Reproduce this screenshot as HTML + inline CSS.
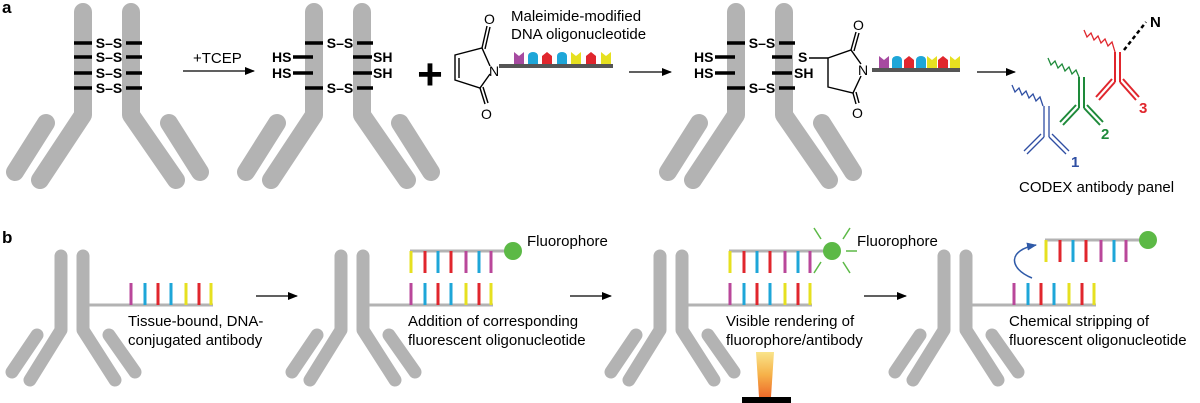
<!DOCTYPE html>
<html><head><meta charset="utf-8"><style>
html,body{margin:0;padding:0;background:#fff;}
svg{display:block;}
text{font-family:"Liberation Sans",sans-serif;}
</style></head><body>
<svg width="1200" height="403" viewBox="0 0 1200 403" xmlns="http://www.w3.org/2000/svg">
<defs>
<marker id="ah" markerWidth="10" markerHeight="8" refX="9" refY="4" orient="auto" markerUnits="userSpaceOnUse"><path d="M0,0 L10,4 L0,8 z" fill="#000"/></marker>
<marker id="bh" markerWidth="10" markerHeight="8" refX="9" refY="4" orient="auto" markerUnits="userSpaceOnUse"><path d="M0,0 L10,4 L0,8 z" fill="#2f5aa8"/></marker>
<linearGradient id="lamp" x1="0" y1="0" x2="0" y2="1"><stop offset="0" stop-color="#f9e48a"/><stop offset="0.5" stop-color="#f6b24a"/><stop offset="1" stop-color="#ee6a2a"/></linearGradient>
<g id="abA" fill="none" stroke="#b3b3b3" stroke-width="18" stroke-linecap="round" stroke-linejoin="round">
<polyline points="83,12 83,115 40,180"/>
<polyline points="131,12 131,115 176,180"/>
<line x1="46" y1="123" x2="15" y2="172"/>
<line x1="169" y1="123" x2="200" y2="172"/>
</g>
<g id="abB" fill="none" stroke="#b3b3b3" stroke-width="13" stroke-linecap="round" stroke-linejoin="round">
<polyline points="61,256 61,330 30,380"/>
<polyline points="83,256 83,330 115,380"/>
<line x1="37" y1="335" x2="12" y2="372"/>
<line x1="109" y1="335" x2="135" y2="372"/>
</g>
<g id="lowerDNA" stroke-width="3">
<line x1="89" y1="305" x2="213" y2="305" stroke="#b3b3b3"/>
<line x1="131" y1="283" x2="131" y2="305" stroke="#b9479a"/>
<line x1="145" y1="283" x2="145" y2="305" stroke="#1ea6d8"/>
<line x1="158" y1="283" x2="158" y2="305" stroke="#e0262d"/>
<line x1="171" y1="283" x2="171" y2="305" stroke="#1ea6d8"/>
<line x1="186" y1="283" x2="186" y2="305" stroke="#e6e020"/>
<line x1="199" y1="283" x2="199" y2="305" stroke="#e0262d"/>
<line x1="211" y1="283" x2="211" y2="305" stroke="#e6e020"/>
</g>
<g id="upperDNA" stroke-width="3">
<line x1="130" y1="251" x2="230" y2="251" stroke="#b3b3b3"/>
<line x1="131" y1="251" x2="131" y2="273" stroke="#e6e020"/>
<line x1="145" y1="251" x2="145" y2="273" stroke="#e0262d"/>
<line x1="158" y1="251" x2="158" y2="273" stroke="#1ea6d8"/>
<line x1="171" y1="251" x2="171" y2="273" stroke="#e0262d"/>
<line x1="186" y1="251" x2="186" y2="273" stroke="#b9479a"/>
<line x1="199" y1="251" x2="199" y2="273" stroke="#1ea6d8"/>
<line x1="211" y1="251" x2="211" y2="273" stroke="#b9479a"/>
<circle cx="233" cy="251" r="9" fill="#5cb946" stroke="none"/>
</g>
<g id="notch"><path d="M-5,0 V-12 L0,-8 L5,-12 V0 z"/></g>
<g id="round"><path d="M-5,0 V-8 A5,4 0 0 1 5,-8 V0 z"/></g>
<g id="point"><path d="M-5,0 V-8 L0,-12 L5,-8 V0 z"/></g>
</defs>

<text x="2" y="13" font-size="17" font-weight="bold">a</text>
<text x="2" y="243" font-size="17" font-weight="bold">b</text>

<use href="#abA"/>
<g stroke="#000" stroke-width="3.5">
<line x1="74" y1="43" x2="92" y2="43"/><line x1="126" y1="43" x2="142" y2="43"/>
<line x1="74" y1="57" x2="92" y2="57"/><line x1="126" y1="57" x2="142" y2="57"/>
<line x1="74" y1="73" x2="92" y2="73"/><line x1="126" y1="73" x2="142" y2="73"/>
<line x1="74" y1="88" x2="92" y2="88"/><line x1="126" y1="88" x2="142" y2="88"/>
</g>
<g font-size="14" font-weight="bold" text-anchor="middle">
<text x="109" y="48">S–S</text><text x="109" y="62">S–S</text><text x="109" y="78">S–S</text><text x="109" y="93">S–S</text>
</g>
<text x="193" y="63" font-size="15">+TCEP</text>
<line x1="183" y1="71" x2="254" y2="71" stroke="#000" stroke-width="1.3" marker-end="url(#ah)"/>

<use href="#abA" x="231"/>
<g stroke="#000" stroke-width="3.5">
<line x1="305" y1="43" x2="323" y2="43"/><line x1="357" y1="43" x2="373" y2="43"/>
<line x1="293" y1="57" x2="313" y2="57"/><line x1="353" y1="57" x2="372" y2="57"/>
<line x1="293" y1="73" x2="313" y2="73"/><line x1="353" y1="73" x2="372" y2="73"/>
<line x1="305" y1="88" x2="323" y2="88"/><line x1="357" y1="88" x2="373" y2="88"/>
</g>
<g font-size="14" font-weight="bold">
<text x="340" y="48" text-anchor="middle">S–S</text><text x="340" y="93" text-anchor="middle">S–S</text>
<text x="272" y="62">HS</text><text x="272" y="78">HS</text>
<text x="373" y="62">SH</text><text x="373" y="78">SH</text>
</g>
<text x="430" y="89" font-size="44" font-weight="bold" text-anchor="middle">+</text>

<g fill="none" stroke="#000" stroke-width="1.4">
<polyline points="490,66 482,48 455,55 455,80 480,88 490,74"/>
<line x1="459" y1="58" x2="459" y2="78"/>
<line x1="482" y1="48" x2="487" y2="26"/><line x1="485" y1="49" x2="490" y2="27"/>
<line x1="480" y1="88" x2="485" y2="104"/><line x1="483" y1="87" x2="488" y2="103"/>
</g>
<g font-size="14"><text x="484" y="24">O</text><text x="481" y="119">O</text><text x="489" y="76">N</text></g>
<line x1="499" y1="66" x2="613" y2="66" stroke="#555" stroke-width="4"/>
<g transform="translate(0,64)">
<use href="#notch" x="519" fill="#a64aa0"/><use href="#round" x="533" fill="#1ea6d8"/><use href="#point" x="547" fill="#e0262d"/><use href="#round" x="562" fill="#1ea6d8"/><use href="#notch" x="576" fill="#e6e020"/><use href="#point" x="591" fill="#e0262d"/><use href="#notch" x="606" fill="#e6e020"/>
</g>
<text x="511" y="21" font-size="15">Maleimide-modified</text>
<text x="511" y="39" font-size="15">DNA oligonucleotide</text>
<line x1="629" y1="72" x2="671" y2="72" stroke="#000" stroke-width="1.3" marker-end="url(#ah)"/>

<use href="#abA" x="653"/>
<g stroke="#000" stroke-width="3.5">
<line x1="727" y1="43" x2="745" y2="43"/><line x1="779" y1="43" x2="795" y2="43"/>
<line x1="715" y1="57" x2="735" y2="57"/><line x1="772" y1="57" x2="792" y2="57"/>
<line x1="715" y1="73" x2="735" y2="73"/><line x1="772" y1="73" x2="792" y2="73"/>
<line x1="727" y1="88" x2="745" y2="88"/><line x1="779" y1="88" x2="795" y2="88"/>
</g>
<g font-size="14" font-weight="bold">
<text x="762" y="48" text-anchor="middle">S–S</text><text x="762" y="93" text-anchor="middle">S–S</text>
<text x="694" y="62">HS</text><text x="694" y="78">HS</text>
<text x="798" y="62">S</text><text x="794" y="78">SH</text>
</g>
<g fill="none" stroke="#000" stroke-width="1.4">
<line x1="809" y1="58" x2="828" y2="58"/>
<polyline points="828,58 851,50 861,64"/>
<polyline points="861,76 853,93 828,87 828,58"/>
<line x1="851" y1="50" x2="856" y2="32"/><line x1="854" y1="51" x2="859" y2="33"/>
<line x1="853" y1="93" x2="856" y2="104"/><line x1="856" y1="92" x2="859" y2="103"/>
</g>
<g font-size="14"><text x="853" y="30">O</text><text x="852" y="118">O</text><text x="858" y="75">N</text></g>
<line x1="872" y1="70" x2="960" y2="70" stroke="#555" stroke-width="4"/>
<g transform="translate(0,68)">
<use href="#notch" x="884" fill="#a64aa0"/><use href="#round" x="897" fill="#1ea6d8"/><use href="#point" x="909" fill="#e0262d"/><use href="#round" x="921" fill="#1ea6d8"/><use href="#notch" x="932" fill="#e6e020"/><use href="#point" x="943" fill="#e0262d"/><use href="#notch" x="955" fill="#e6e020"/>
</g>
<line x1="977" y1="72" x2="1015" y2="72" stroke="#000" stroke-width="1.3" marker-end="url(#ah)"/>

<g fill="none" stroke-width="1.3">
<g stroke="#2f4fa3">
<line x1="1044" y1="106" x2="1044" y2="137"/><line x1="1049" y1="106" x2="1049" y2="137"/>
<line x1="1044" y1="137" x2="1027" y2="154"/><line x1="1041" y1="134" x2="1024" y2="151"/>
<line x1="1049" y1="137" x2="1066" y2="154"/><line x1="1052" y1="134" x2="1069" y2="151"/>
<polyline points="1012,85 1015,92 1019,88 1022,95 1026,91 1029,98 1033,94 1036,101 1040,97 1043,106"/>
</g>
<g stroke="#1e8a3a" stroke-width="2">
<line x1="1079" y1="77" x2="1079" y2="108"/><line x1="1084" y1="77" x2="1084" y2="108"/>
<line x1="1079" y1="108" x2="1063" y2="125"/><line x1="1076" y1="105" x2="1060" y2="122"/>
<line x1="1084" y1="108" x2="1100" y2="125"/><line x1="1087" y1="105" x2="1103" y2="122"/>
</g>
<polyline stroke="#1e8a3a" points="1048,58 1051,65 1055,61 1058,68 1062,64 1065,71 1069,67 1072,74 1076,70 1079,77"/>
<g stroke="#e0262d" stroke-width="2">
<line x1="1115" y1="52" x2="1115" y2="82"/><line x1="1120" y1="52" x2="1120" y2="82"/>
<line x1="1115" y1="82" x2="1099" y2="100"/><line x1="1112" y1="79" x2="1096" y2="97"/>
<line x1="1120" y1="82" x2="1136" y2="100"/><line x1="1123" y1="79" x2="1139" y2="97"/>
</g>
<polyline stroke="#e0262d" points="1084,30 1087,37 1091,33 1094,40 1098,36 1101,43 1105,39 1108,46 1112,42 1115,52"/>
<line x1="1124" y1="50" x2="1146" y2="22" stroke="#000" stroke-width="2.5" stroke-dasharray="4,3"/>
</g>
<g font-size="15" font-weight="bold">
<text x="1071" y="167" fill="#2f4fa3">1</text>
<text x="1101" y="139" fill="#1e8a3a">2</text>
<text x="1139" y="113" fill="#e0262d">3</text>
<text x="1150" y="27" fill="#000">N</text>
</g>
<text x="1019" y="192" font-size="15">CODEX antibody panel</text>

<use href="#abB"/><use href="#lowerDNA"/>
<text x="128" y="326" font-size="15">Tissue-bound, DNA-</text>
<text x="128" y="345" font-size="15">conjugated antibody</text>
<line x1="256" y1="296" x2="297" y2="296" stroke="#000" stroke-width="1.3" marker-end="url(#ah)"/>

<g transform="translate(280,0)"><use href="#abB"/><use href="#lowerDNA"/><use href="#upperDNA"/></g>
<text x="527" y="246" font-size="15">Fluorophore</text>
<text x="408" y="326" font-size="15">Addition of corresponding</text>
<text x="408" y="345" font-size="15">fluorescent oligonucleotide</text>
<line x1="570" y1="296" x2="611" y2="296" stroke="#000" stroke-width="1.3" marker-end="url(#ah)"/>

<g transform="translate(599,0)"><use href="#abB"/><use href="#lowerDNA"/><use href="#upperDNA"/></g>
<g stroke="#5cb946" stroke-width="1.5">
<line x1="821" y1="239" x2="814" y2="228"/><line x1="843" y1="239" x2="850" y2="228"/>
<line x1="846" y1="251" x2="857" y2="251"/>
<line x1="821" y1="262" x2="814" y2="273"/><line x1="843" y1="262" x2="850" y2="273"/>
</g>
<text x="857" y="246" font-size="15">Fluorophore</text>
<text x="726" y="326" font-size="15">Visible rendering of</text>
<text x="726" y="345" font-size="15">fluorophore/antibody</text>
<path d="M756,352 L774,352 L771,397 L759,397 z" fill="url(#lamp)"/>
<rect x="742" y="397" width="49" height="6" fill="#000"/>
<line x1="864" y1="296" x2="906" y2="296" stroke="#000" stroke-width="1.3" marker-end="url(#ah)"/>

<g transform="translate(883,0)"><use href="#abB"/><use href="#lowerDNA"/></g>
<g transform="translate(915,-11)"><use href="#upperDNA"/></g>
<path d="M1032,278 C1008,268 1008,250 1036,245" fill="none" stroke="#2f5aa8" stroke-width="1.5" marker-end="url(#bh)"/>
<text x="1009" y="326" font-size="15">Chemical stripping of</text>
<text x="1009" y="345" font-size="15">fluorescent oligonucleotide</text>
</svg>
</body></html>
